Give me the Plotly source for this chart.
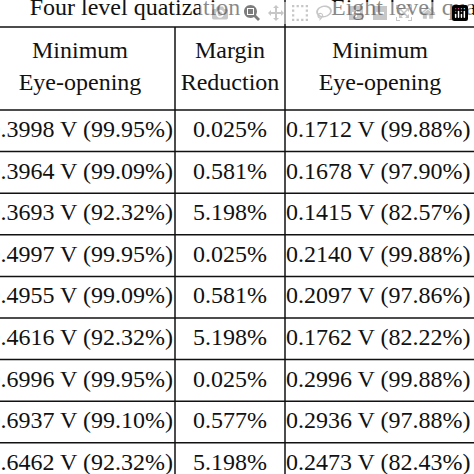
import plotly.graph_objects as go

four_eye = ["0.3998 V (99.95%)", "0.3964 V (99.09%)", "0.3693 V (92.32%)",
            "0.4997 V (99.95%)", "0.4955 V (99.09%)", "0.4616 V (92.32%)",
            "0.6996 V (99.95%)", "0.6937 V (99.10%)", "0.6462 V (92.32%)"]
four_margin = ["0.025%", "0.581%", "5.198%", "0.025%", "0.581%", "5.198%",
               "0.025%", "0.577%", "5.198%"]
eight_eye = ["0.1712 V (99.88%)", "0.1678 V (97.90%)", "0.1415 V (82.57%)",
             "0.2140 V (99.88%)", "0.2097 V (97.86%)", "0.1762 V (82.22%)",
             "0.2996 V (99.88%)", "0.2936 V (97.88%)", "0.2473 V (82.43%)"]
groups = ["Four level quatization", "Eight level quatization"]
subheads = ["Minimum<br>Eye-opening", "Margin<br>Reduction", "Minimum<br>Eye-opening"]

font = dict(family="Liberation Serif", size=24, color="#111")
row_y = [131 + 41.6 * i for i in range(len(four_eye))]

fig = go.Figure()
fig.add_trace(go.Scatter(x=[173] * len(four_eye), y=row_y, text=four_eye, mode="text",
                         textposition="middle left", textfont=font))
fig.add_trace(go.Scatter(x=[230] * len(four_margin), y=row_y, text=four_margin, mode="text",
                         textposition="middle center", textfont=font))
fig.add_trace(go.Scatter(x=[286] * len(eight_eye), y=row_y, text=eight_eye, mode="text",
                         textposition="middle right", textfont=font))
fig.add_trace(go.Scatter(x=[135], y=[9], text=groups[:1], mode="text",
                         textposition="middle center", textfont=font))
fig.add_trace(go.Scatter(x=[331], y=[9], text=groups[1:], mode="text",
                         textposition="middle right", textfont=font))
fig.add_trace(go.Scatter(x=[80, 230, 380], y=[68, 68, 68], text=subheads, mode="text",
                         textposition="middle center", textfont=font))

line = dict(color="#111", width=1.5)
fig.add_shape(type="line", x0=0, x1=474, y0=27, y1=27, line=line)
for i in range(len(four_eye)):
    y = 110 + 41.6 * i
    fig.add_shape(type="line", x0=0, x1=474, y0=y, y1=y, line=line)
fig.add_shape(type="line", x0=175, x1=175, y0=27, y1=474, line=line)
fig.add_shape(type="line", x0=285, x1=285, y0=0, y1=474, line=line)

fig.update_xaxes(range=[0, 474], visible=False)
fig.update_yaxes(range=[474, 0], visible=False)
fig.update_layout(width=474, height=474, margin=dict(l=0, r=0, t=0, b=0),
                  showlegend=False, plot_bgcolor="white", paper_bgcolor="white")
fig.write_html("out.html", post_script="document.body.style.margin='0';")
